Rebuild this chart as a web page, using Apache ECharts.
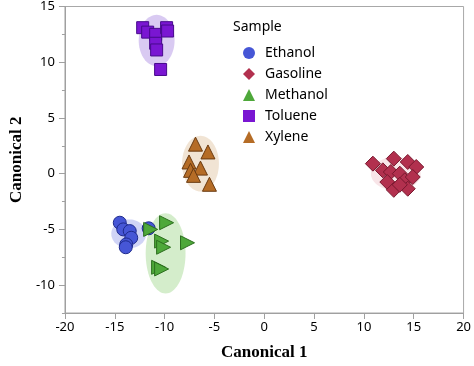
<!DOCTYPE html>
<html><head><meta charset="utf-8">
<script src="https://cdn.jsdelivr.net/npm/echarts@6/dist/echarts.min.js"></script>
<style>html,body{margin:0;padding:0;background:#fff}#c{width:474px;height:366px}</style>
</head><body><div id="c"></div>
<script>
// Sample groups
const groups = ['Ethanol', 'Gasoline', 'Methanol', 'Toluene', 'Xylene'];
// Points [Canonical1, Canonical2]
const ethanol = [[-14.5,-4.4],[-14.15,-5.0],[-13.5,-5.15],[-13.35,-5.75],[-13.85,-6.35],[-13.9,-6.6],[-11.6,-4.9]];
const gasoline = [[10.9,0.9],[11.9,0.3],[13.0,1.35],[14.4,1.05],[15.25,0.6],[12.7,0.15],[13.6,0.0],[12.35,-0.75],[14.1,-0.6],[14.9,-0.3],[13.0,-1.45],[14.4,-1.35],[13.6,-1.0]];
const methanol = [[-11.4,-5.0],[-9.8,-4.4],[-10.3,-6.05],[-10.1,-6.6],[-7.7,-6.2],[-10.6,-8.4],[-10.3,-8.55]];
const toluene = [[-12.2,13.1],[-11.7,12.7],[-10.9,12.5],[-9.8,13.1],[-9.7,12.8],[-10.9,11.7],[-10.8,11.1],[-10.4,9.35]];
const xylene = [[-6.9,2.65],[-5.65,1.95],[-7.55,1.05],[-6.4,0.5],[-7.4,0.3],[-7.1,-0.15],[-5.5,-0.95]];
// Confidence ellipses: [centerX, centerY, radiusX, radiusY]
const ellipses = {
  Ethanol: [-13.6, -5.4, 1.75, 1.3],
  Gasoline: [13.2, 0.0, 2.5, 1.5],
  Methanol: [-9.9, -7.15, 2.0, 3.6],
  Toluene: [-10.8, 11.95, 1.8, 2.3],
  Xylene: [-6.4, 0.9, 1.85, 2.5]
};
const xTicks = [-20,-15,-10,-5,0,5,10,15,20];
const yTicks = [-10,-5,0,5,10,15];

const fills = {Ethanol:'#4656d6', Gasoline:'#b2304e', Methanol:'#4ea83a', Toluene:'#7a16d2', Xylene:'#b56c26'};
const borders = {Ethanol:'#1e2a8c', Gasoline:'#78182e', Methanol:'#2c6e1e', Toluene:'#470a8c', Xylene:'#6a3a10'};
const ellColors = {Ethanol:'rgba(150,160,235,0.45)', Gasoline:'rgba(235,180,190,0.35)', Methanol:'rgba(160,215,140,0.45)', Toluene:'rgba(180,150,230,0.5)', Xylene:'rgba(225,195,160,0.45)'};
const pts = {Ethanol:ethanol, Gasoline:gasoline, Methanol:methanol, Toluene:toluene, Xylene:xylene};
const symbols = {Ethanol:'circle', Gasoline:'diamond', Methanol:'triangle', Toluene:'rect', Xylene:'triangle'};
const sizes = {Ethanol:13, Gasoline:15, Methanol:14, Toluene:12, Xylene:14};
const rot = {Ethanol:0, Gasoline:0, Methanol:-90, Toluene:0, Xylene:0};

const series = [];
groups.forEach(g => {
  const e = ellipses[g];
  series.push({
    type:'custom', name:g+'_ell', z:1, silent:true,
    data:[e],
    renderItem:(params, api) => {
      const p = [];
      for (let i = 0; i < 72; i++) {
        const t = i / 72 * Math.PI * 2;
        p.push(api.coord([e[0] + e[2]*Math.cos(t), e[1] + e[3]*Math.sin(t)]));
      }
      return {type:'polygon', shape:{points:p}, style:{fill:ellColors[g]}};
    }
  });
});
groups.forEach(g => {
  series.push({
    type:'scatter', name:g, z:3, data:pts[g],
    symbol:symbols[g], symbolSize:sizes[g], symbolRotate:rot[g],
    itemStyle:{color:fills[g], borderColor:borders[g], borderWidth:1, opacity:1}
  });
});

const chart = echarts.init(document.getElementById('c'), null, {renderer:'canvas'});
chart.setOption({
  animation:false,
  grid:{left:51, right:8, top:6, bottom:49, show:true, borderColor:'#a8a8a8', borderWidth:1},
  xAxis:{
    type:'value', min:-20, max:20, interval:5,
    name:'Canonical 1', nameLocation:'middle', nameGap:31,
    nameTextStyle:{fontFamily:'Liberation Serif', fontWeight:'bold', fontSize:17, color:'#000'},
    axisLine:{show:true, onZero:false, lineStyle:{color:'#a0a0a0'}},
    axisTick:{show:true, length:6, lineStyle:{color:'#a0a0a0'}},
    axisLabel:{color:'#000', fontFamily:'Noto Sans', fontSize:13, margin:8, customValues:xTicks},
    splitLine:{show:false}
  },
  yAxis:[{
    type:'value', min:-12.5, max:15, interval:2.5,
    name:'Canonical 2', nameLocation:'middle', nameGap:31, nameRotate:90,
    nameTextStyle:{fontFamily:'Liberation Serif', fontWeight:'bold', fontSize:17, color:'#000'},
    axisLine:{show:true, onZero:false, lineStyle:{color:'#a0a0a0'}},
    axisTick:{show:true, length:3, lineStyle:{color:'#a0a0a0'}},
    axisLabel:{color:'#000', fontFamily:'Noto Sans', fontSize:13, margin:10, customValues:yTicks},
    splitLine:{show:false}
  },{
    type:'value', min:-12.5, max:15, position:'left', offset:0,
    axisLine:{show:false, onZero:false},
    axisTick:{show:true, length:6, customValues:yTicks, lineStyle:{color:'#a0a0a0'}},
    axisLabel:{show:false},
    splitLine:{show:false}
  }],
  legend:{
    data:groups, orient:'vertical', left:243, top:46, padding:0,
    itemWidth:12, itemHeight:12, itemGap:7,
    textStyle:{fontFamily:'Noto Sans', fontSize:14, color:'#000', padding:[0,0,0,5]},
    itemStyle:{borderWidth:0}
  },
  graphic:[{type:'text', left:233, top:20, style:{text:'Sample', font:'14px "Noto Sans"', fill:'#000'}}],
  series:series
});
</script></body></html>
